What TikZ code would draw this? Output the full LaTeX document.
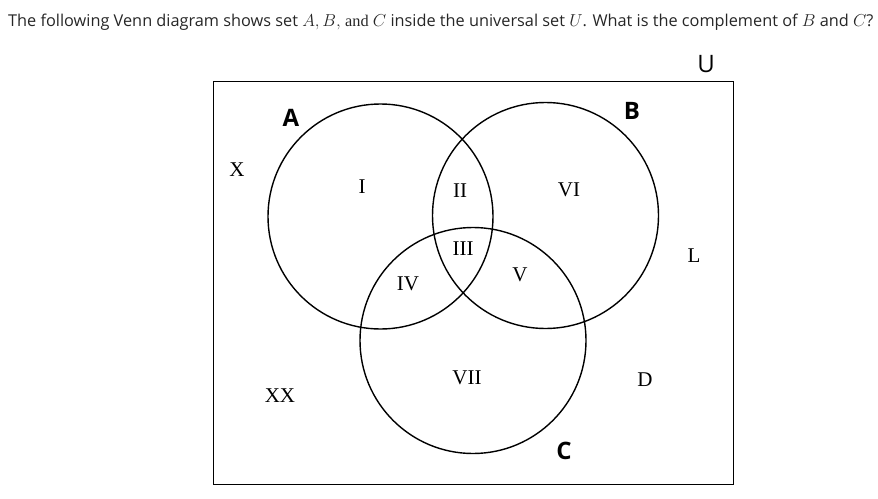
\documentclass[tikz,border=0pt]{standalone}
\usepackage{fontspec}
\setmainfont{Liberation Serif}
\newfontfamily\opensans{Open Sans}
\begin{document}
\begin{tikzpicture}[x=1pt,y=-1pt,
  reg/.style={font=\fontsize{21}{21}\selectfont},
  setlbl/.style={font=\opensans\bfseries\fontsize{24}{24}\selectfont},
  circ/.style={draw,line width=1.4pt}]
\useasboundingbox (0,0) rectangle (878,498);
\node[anchor=west,font=\opensans\fontsize{16.3}{17}\selectfont,text=black!85,inner sep=0pt] (title) at (8,22)
 {The following Venn diagram shows set $A, B,$ $\mathrm{and}$ $C$ inside the universal set $U$. What is the complement of $B$ and $C$?};
\draw[line width=1pt] (213,81) rectangle (733,484);
\coordinate (ca) at (380.5,216.5);
\coordinate (cb) at (545.5,215.5);
\coordinate (cc) at (473,340.5);
\draw[circ] (ca) circle[radius=112.5];
\draw[circ] (cb) circle[radius=113];
\draw[circ] (cc) circle[radius=113];
\node[setlbl] (A) at (291,118) {A};
\node[setlbl] (B) at (632,111) {B};
\node[setlbl] (C) at (564,451) {C};
\node[font=\opensans\fontsize{24}{24}\selectfont] (U) at (706,64) {U};
\node[reg] (X) at (237,170) {X};
\node[reg] (r1) at (362,187) {I};
\node[reg] (r2) at (460,191) {II};
\node[reg] (r6) at (569,190) {VI};
\node[reg] (r3) at (463,249) {III};
\node[reg] (L) at (694,256) {L};
\node[reg] (r4) at (408,284) {IV};
\node[reg] (r5) at (520,275) {V};
\node[reg] (r7) at (467,378) {VII};
\node[reg] (D) at (645,380) {D};
\node[reg] (XX) at (280,396) {XX};
\end{tikzpicture}
\end{document}
